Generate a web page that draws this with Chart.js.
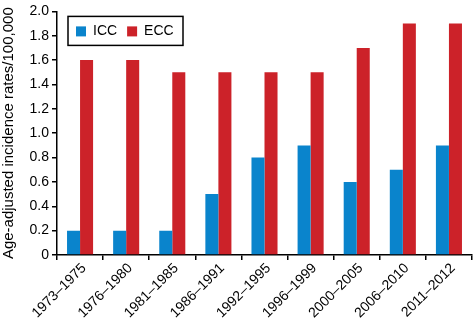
<!DOCTYPE html>
<html>
<head>
<meta charset="utf-8">
<script src="https://cdn.jsdelivr.net/npm/chart.js@4/dist/chart.umd.min.js"></script>
<style>
  html, body { margin: 0; padding: 0; background: #fff; }
  #wrap { width: 474px; height: 327px; }
</style>
</head>
<body>
<div id="wrap"><canvas id="chart"></canvas></div>
<script>
const periods = ['1973–1975', '1976–1980', '1981–1985', '1986–1991', '1992–1995',
                 '1996–1999', '2000–2005', '2006–2010', '2011–2012'];
const iccRates = [0.2, 0.2, 0.2, 0.5, 0.8, 0.9, 0.6, 0.7, 0.9];
const eccRates = [1.6, 1.6, 1.5, 1.5, 1.5, 1.5, 1.7, 1.9, 1.9];

const blue = '#0a84cc';
const red  = '#cc2229';
const fontFamily = '"Liberation Sans", Arial, sans-serif';

// Légende encadrée dans la zone du graphique
const boxedLegend = {
    id: 'boxedLegend',
    afterDraw(chart) {
        const { ctx, chartArea } = chart;
        const x0 = chartArea.left + 11, y0 = chartArea.top + 5;
        ctx.save();
        ctx.strokeStyle = '#000';
        ctx.lineWidth = 1.5;
        ctx.strokeRect(x0, y0, 115, 29);
        ctx.font = '14px ' + fontFamily;
        ctx.textBaseline = 'middle';
        let x = x0 + 8;
        chart.data.datasets.forEach(ds => {
            ctx.fillStyle = ds.backgroundColor;
            ctx.fillRect(x, y0 + 10, 10, 10);
            ctx.fillStyle = '#000';
            ctx.fillText(ds.label, x + 17, y0 + 15);
            x += 17 + ctx.measureText(ds.label).width + 10;
        });
        ctx.restore();
    }
};

// Libellés de l'axe x à 45°, placés avec l'échelle x
const slantedLabels = {
    id: 'slantedLabels',
    afterDraw(chart) {
        const { ctx } = chart;
        const xs = chart.scales.x;
        ctx.save();
        ctx.font = '14px ' + fontFamily;
        ctx.fillStyle = '#000';
        ctx.textAlign = 'right';
        ctx.textBaseline = 'middle';
        chart.data.labels.forEach((lab, i) => {
            ctx.save();
            ctx.translate(xs.getPixelForTick(i) + 4, xs.top + 11);
            ctx.rotate(-Math.PI / 4);
            ctx.fillText(lab, 0, 0);
            ctx.restore();
        });
        ctx.restore();
    }
};

new Chart(document.getElementById('chart').getContext('2d'), {
    type: 'bar',
    data: {
        labels: periods,
        datasets: [
            { label: 'ICC', data: iccRates, backgroundColor: blue },
            { label: 'ECC', data: eccRates, backgroundColor: red }
        ]
    },
    options: {
        responsive: true,
        maintainAspectRatio: false,
        animation: false,
        datasets: { bar: { barPercentage: 1, categoryPercentage: 0.565 } },
        layout: { padding: { top: 7, right: 2, left: 0, bottom: 0 } },
        plugins: { legend: { display: false }, tooltip: { enabled: false } },
        scales: {
            x: {
                afterFit: s => { s.height = 72; },
                grid: { drawOnChartArea: false, drawTicks: true, tickLength: 5, color: '#000', lineWidth: 1.5 },
                border: { color: '#000', width: 1.5 },
                ticks: { display: false }
            },
            y: {
                min: 0, max: 2.0,
                afterFit: s => { s.width = 57; },
                grid: { drawOnChartArea: false, drawTicks: true, tickLength: 5, color: '#000', lineWidth: 1.5 },
                border: { color: '#000', width: 1.5 },
                title: { display: true, text: 'Age-adjusted incidence rates/100,000', color: '#000',
                         padding: 0, font: { size: 15, family: fontFamily } },
                ticks: { stepSize: 0.2, color: '#000', padding: 3,
                         font: { size: 14, family: fontFamily },
                         callback: v => v === 0 ? '0' : v.toFixed(1) }
            }
        }
    },
    plugins: [boxedLegend, slantedLabels]
});
</script>
</body>
</html>
